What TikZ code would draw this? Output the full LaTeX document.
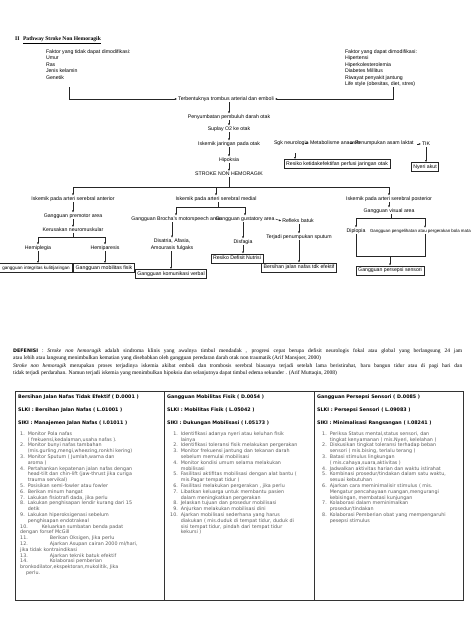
\documentclass[tikz,border=0pt]{standalone}
\usepackage{fontspec}
\setmainfont{Liberation Serif}
\setsansfont{Liberation Sans}
\newfontfamily\verdana{DejaVu Sans}
\usetikzlibrary{arrows.meta,positioning,calc}

\begin{document}
\begin{tikzpicture}[x=1pt, y=-1pt,
      txt/.style={font=\sffamily\fontsize{5.2}{6.5}\selectfont, inner sep=0.8pt},
      box/.style={txt, draw=black!85, line width=0.45pt, inner xsep=2pt, inner ysep=2pt,
                  text height=3.9pt, text depth=1.2pt},
      arr/.style={-{Latex[length=2.2pt,width=2pt]}, line width=0.45pt, draw=black!85},
      ln/.style={line width=0.45pt, draw=black!85},
      para/.style={font=\rmfamily\fontsize{5.5}{6.5}\selectfont, anchor=west, inner sep=0},
      hd/.style={font=\verdana\bfseries\fontsize{4.8}{5.8}\selectfont, anchor=west, inner sep=0},
      tbl/.style={font=\verdana\fontsize{4.8}{5.8}\selectfont, anchor=north west, inner sep=0, text=black!65}]

    \useasboundingbox (0,0) rectangle (474,632);
    \clip (0,0) rectangle (474,632);

    \node[font=\rmfamily\bfseries\fontsize{5.6}{6.5}\selectfont, anchor=west, inner sep=0] (judul) at (15,40)
      {II\hspace{3.5pt}\underline{Pathway Stroke Non Hemoragik}};

    % faktor resiko
    \node[txt, anchor=north west, align=left] (lfaktor) at (45,48.5)
      {Faktor yang tidak dapat dimodifikasi:\\Umur\\Ras\\Jenis kelamin\\Genetik};
    \node[txt, anchor=north west, align=left] (rfaktor) at (344,48.5)
      {Faktor yang dapat dimodifikasi:\\Hipertensi\\Hiperkolesterolemia\\Diabetes Millitus\\Riwayat penyakit jantung\\Life style (obesitas, diet, stres)};

    \node[txt] (trombus)  at (226,99)  {Terbentuknya trombus arterial dan emboli};
    \node[txt] (sumbat)   at (229,117) {Penyumbatan pembuluh darah otak};
    \node[txt] (suplay)   at (229,129) {Suplay O2 ke otak};
    \node[txt] (iskemik)  at (229,144) {Iskemik jaringan pada otak};
    \node[txt] (hipoksia) at (229,160) {Hipoksia};
    \node[txt] (stroke)   at (229,174) {STROKE NON HEMORAGIK};

    \coordinate (lf) at (69,87);
    \coordinate (rf) at (393,87);
    \draw[arr] (lf) |- (trombus);
    \draw[arr] (rf) |- (trombus);
    \draw[arr] (sumbat |- trombus.south) -- (sumbat);
    \draw[arr] (sumbat) -- (suplay);
    \draw[arr] (suplay) -- (iskemik);
    \draw[arr] (iskemik) -- (hipoksia);
    \draw[arr] (hipoksia) -- (stroke);

    \node[txt, anchor=west] (sgk)    at (273,143) {Sgk neurologis};
    \node[txt, anchor=west] (metab)  at (309,143) {Metabolisme anaerob};
    \node[txt, anchor=west] (laktat) at (354,143) {Penumpukan asam laktat};
    \node[txt, anchor=west] (tik)    at (421,144) {TIK};
    \draw[arr] ([xshift=-4pt]metab.west) -- (metab.west);
    \draw[arr] ([xshift=-4pt]laktat.west) -- (laktat.west);
    \draw[arr] ([xshift=-4pt]tik.west) -- (tik.west);

    \node[box] (perfusi) at (337,164) {Resiko ketidakefektifan perfusi jaringan otak};
    \node[box] (nyeri)   at (425,167) {Nyeri akut};
    \coordinate (sg) at (295,153);
    \draw[arr] (sg) -- (sg |- perfusi.north);
    \draw[arr] (tik) -- (tik |- nyeri.north);

    % tiga cabang arteri
    \coordinate (bus1) at (229,187);
    \draw[ln] (stroke) -- (bus1);
    \node[txt] (anterior)  at (73,199)  {Iskemik pada arteri serebral anterior};
    \node[txt] (medial)    at (216,199) {Iskemik pada arteri serebral medial};
    \node[txt] (posterior) at (389,199) {Iskemik pada arteri serebral posterior};
    \draw[arr] (bus1) -| (anterior);
    \draw[arr] (bus1) -| (medial);
    \draw[arr] (bus1) -| (posterior);

    % anterior
    \node[txt] (premotor)  at (73,216) {Gangguan premotor area};
    \node[txt] (kerusakan) at (73,230) {Kerusakan neuromuskular};
    \draw[arr] (anterior) -- (premotor);
    \draw[arr] (premotor) -- (kerusakan);
    \coordinate (bus5) at (73,237);
    \draw[ln] (kerusakan) -- (bus5);
    \node[txt] (hemiplegia)  at (38,248)  {Hemiplegia};
    \node[txt] (hemiparesis) at (105,248) {Hemiparesis};
    \draw[arr] (bus5) -| (hemiplegia);
    \draw[arr] (bus5) -| (hemiparesis);
    \node[box, anchor=east, font=\sffamily\fontsize{4.6}{6}\selectfont] (integritas) at (72,268)
      {\hspace*{8pt}gangguan integritas kulit/jaringan};
    \node[box] (mobilitas) at (104,268) {Gangguan mobilitas fisik};
    \draw[arr] (hemiplegia) -- (hemiplegia |- integritas.north);
    \draw[arr] (hemiparesis) -- (hemiparesis |- mobilitas.north);

    % medial
    \coordinate (bus2) at (218,207);
    \draw[ln] (bus2 |- medial.south) -- (bus2);
    \node[txt] (brocha)    at (176,219) {Gangguan Brocha's motorspeech area};
    \node[txt] (gustatory) at (245,219) {Gangguan gustatory area};
    \draw[arr] (bus2) -| (brocha);
    \draw[arr] (bus2) -| (gustatory);
    \node[txt, align=center] (disatria) at (172,244.5) {Disatria, Afasia,\\Amourasis fulgaks};
    \node[box] (komunikasi) at (171,274) {Gangguan komunikasi verbal};
    \draw[arr] (disatria |- brocha.south) -- (disatria);
    \draw[arr] (komunikasi |- disatria.south) -- (komunikasi);
    \node[txt] (disfagia) at (243,242) {Disfagia};
    \node[box] (nutrisi)  at (237,258.5) {Resiko Defisit Nutrisi};
    \draw[arr] (disfagia |- gustatory.south) -- (disfagia);
    \draw[arr] (disfagia) -- (disfagia |- nutrisi.north);
    \node[txt] (refleks)  at (298,221) {Refleks batuk};
    \node[txt] (sputum)   at (299,237) {Terjadi penumpukan sputum};
    \node[box] (bersihan) at (299,267.5) {Bersihan jalan nafas tdk efektif};
    \draw[arr] (gustatory.east) -- (refleks.west);
    \draw[arr] (sputum |- refleks.south) -- (sputum);
    \draw[arr] (sputum) -- (bersihan);

    % posterior
    \node[txt] (visual) at (389,211) {Gangguan visual area};
    \draw[arr] (posterior) -- (visual);
    \coordinate (bus3) at (391,218);
    \draw[ln] (bus3 |- visual.south) -- (bus3);
    \node[txt] (diplopia) at (356,231) {Diplopia};
    \node[txt, anchor=west, font=\sffamily\fontsize{4.4}{6}\selectfont] (pengelihatan) at (369,231)
      {Gangguan pengelihatan atau pergerakan bola mata};
    \coordinate (vl) at (356,256);
    \coordinate (vr) at (425,256);
    \draw[arr] (bus3) -| (diplopia);
    \draw[arr] (bus3) -| (vr |- pengelihatan.north);
    \draw[ln] (diplopia) -- (vl) -- (vr) -- (vr |- pengelihatan.south);
    \node[box] (persepsi) at (390,270.5) {Gangguan persepsi sensori};
    \draw[arr] (persepsi |- vl) -- (persepsi);

    % definisi
    \node[para] (def1) at (13,351) {\makebox[449pt][s]{{\verdana\bfseries\fontsize{4.8}{6}\selectfont DEFENISI} : \textit{Stroke non hemoragik} adalah sindroma klinis yang awalnya timbul mendadak , progresi cepat berupa defisit neurologis fokal atau global yang berlangsung 24 jam}};
    \node[para] (def2) at (13,358.5) {atau lebih atau langsung menimbulkan kematian yang disebabkan oleh gangguan peredaran darah otak non traumatik (Arif Mansjoer, 2000)};
    \node[para] (def3) at (13,366) {\makebox[449pt][s]{\textit{Stroke non hemoragik} merupakan proses terjadinya iskemia akibat emboli dan trombosis serebral biasanya terjadi setelah lama beristirahat, baru bangun tidur atau di pagi hari dan}};
    \node[para] (def4) at (13,373.5) {tidak terjadi perdarahan. Namun terjadi iskemia yang menimbulkan hipoksia dan selanjutnya dapat timbul edema sekunder . (Arif Muttaqin, 2008)};

    % tabel intervensi
    \draw[line width=0.6pt, black!80] (15,391) rectangle (463,600);
    \draw[line width=0.6pt, black!80] (164,391) -- (164,600);
    \draw[line width=0.6pt, black!80] (314,391) -- (314,600);

    \node[hd] (dx1)   at (18,397)  {Bersihan Jalan Nafas Tidak Efektif ( D.0001 )};
    \node[hd] (slki1) at (18,410)  {SLKI : Bersihan Jalan Nafas ( L.01001 )};
    \node[hd] (siki1) at (18,423)  {SIKI : Manajemen Jalan Nafas ( I.01011 )};
    \node[hd] (dx2)   at (167,397) {Gangguan Mobilitas Fisik ( D.0054 )};
    \node[hd] (slki2) at (167,410) {SLKI : Mobilitas Fisik ( L.05042 )};
    \node[hd] (siki2) at (167,423) {SIKI : Dukungan Mobilisasi ( I.05173 )};
    \node[hd] (dx3)   at (317,397) {Gangguan Persepsi Sensori ( D.0085 )};
    \node[hd] (slki3) at (317,410) {SLKI : Persepsi Sensori ( L.09083 )};
    \node[hd] (siki3) at (317,423) {SIKI : Minimalisasi Rangsangan ( I.08241 )};

    \node[tbl] (list1) at (20,431) {\begin{tabular}{@{}r@{\hspace{3pt}}l@{}}
      1. & Monitor Pola nafas\\
         & ( frekuensi,kedalaman,usaha nafas ).\\
      2. & Monitor bunyi nafas tambahan\\
         & (mis.gurling,mengi,wheezing,ronkhi kering)\\
      3. & Monitor Sputum ( Jumlah,warna dan\\
         & aroma )\\
      4. & Pertahankan kepatenan jalan nafas dengan\\
         & head-tilt dan chin-lift (jaw-thrust jika curiga\\
         & trauma servikal)\\
      5. & Posisikan semi-fowler atau fowler\\
      6. & Berikan minum hangat\\
      7. & Lakukan fisiotrafi dada, jika perlu\\
      8. & Lakukan penghisapan lendir kurang dari 15\\
         & detik\\
      9. & Lakukan hiperoksigenasi sebelum\\
         & penghisapan endotrakeal\\
      \multicolumn{2}{@{}l@{}}{10.\hspace{14pt}Keluarkan sumbatan benda padat}\\
      \multicolumn{2}{@{}l@{}}{dengan forsef McGill}\\
      \multicolumn{2}{@{}l@{}}{11.\hspace{22pt}Berikan Oksigen, Jika perlu}\\
      \multicolumn{2}{@{}l@{}}{12.\hspace{22pt}Ajarkan Asupan cairan 2000 ml/hari,}\\
      \multicolumn{2}{@{}l@{}}{jika tidak kontraindikasi}\\
      \multicolumn{2}{@{}l@{}}{13.\hspace{22pt}Ajarkan teknik batuk efektif}\\
      \multicolumn{2}{@{}l@{}}{14.\hspace{22pt}Kolaborasi pemberian}\\
      \multicolumn{2}{@{}l@{}}{bronkodilator,ekspektoran,mukolitik, Jika}\\
      \multicolumn{2}{@{}l@{}}{\hspace{6pt}perlu.}
    \end{tabular}};

    \node[tbl] (list2) at (170,431) {\begin{tabular}{@{}r@{\hspace{3pt}}l@{}}
      1. & Identifikasi adanya nyeri atau keluhan fisik\\
         & lainya\\
      2. & Identifikasi toleransi fisik melakukan pergerakan\\
      3. & Monitor frekuensi jantung dan tekanan darah\\
         & sebelum memulai mobilisasi\\
      4. & Monitor kondisi umum selama melakukan\\
         & mobilisasi\\
      5. & Fasilitasi aktifitas mobilisasi dengan alat bantu (\\
         & mis.Pagar tempat tidur )\\
      6. & Fasilitasi melakukan pergerakan , jika perlu\\
      7. & Libatkan keluarga untuk membantu pasien\\
         & dalam meningkatkan pergerakan\\
      8. & Jelaskan tujuan dan prosedur mobilisasi\\
      9. & Anjurkan melakukan mobilisasi dini\\
      10. & Ajarkan mobilisasi sederhana yang harus\\
         & diakukan ( mis.duduk di tempat tidur, duduk di\\
         & sisi tempat tidur, pindah dari tempat tidur\\
         & kekursi )
    \end{tabular}};

    \node[tbl] (list3) at (322,431) {\begin{tabular}{@{}r@{\hspace{3pt}}l@{}}
      1. & Periksa Status mental,status sensori, dan\\
         & tingkat kenyamanan ( mis.Nyeri, kelelahan )\\
      2. & Diskusikan tingkat toleransi terhadap beban\\
         & sensori ( mis.bising, terlalu terang )\\
      3. & Batasi stimulus lingkungan\\
         & ( mis.cahaya,suara,aktivitas )\\
      4. & Jadwalkan aktivitas harian dan waktu istirahat\\
      5. & Kombinasi prosedur/tindakan dalam satu waktu,\\
         & sesuai kebutuhan\\
      6. & Ajarkan cara meminimalisir stimulus ( mis.\\
         & Mengatur pencahayaan ruangan,mengurangi\\
         & kebisingan, membatasi kunjungan\\
      7. & Kolaborasi dalam meminimalkan\\
         & prosedur/tindakan\\
      8. & Kolaborasi Pemberian obat yang mempengaruhi\\
         & pesepsi stimulus
    \end{tabular}};
  \end{tikzpicture}
\end{document}
